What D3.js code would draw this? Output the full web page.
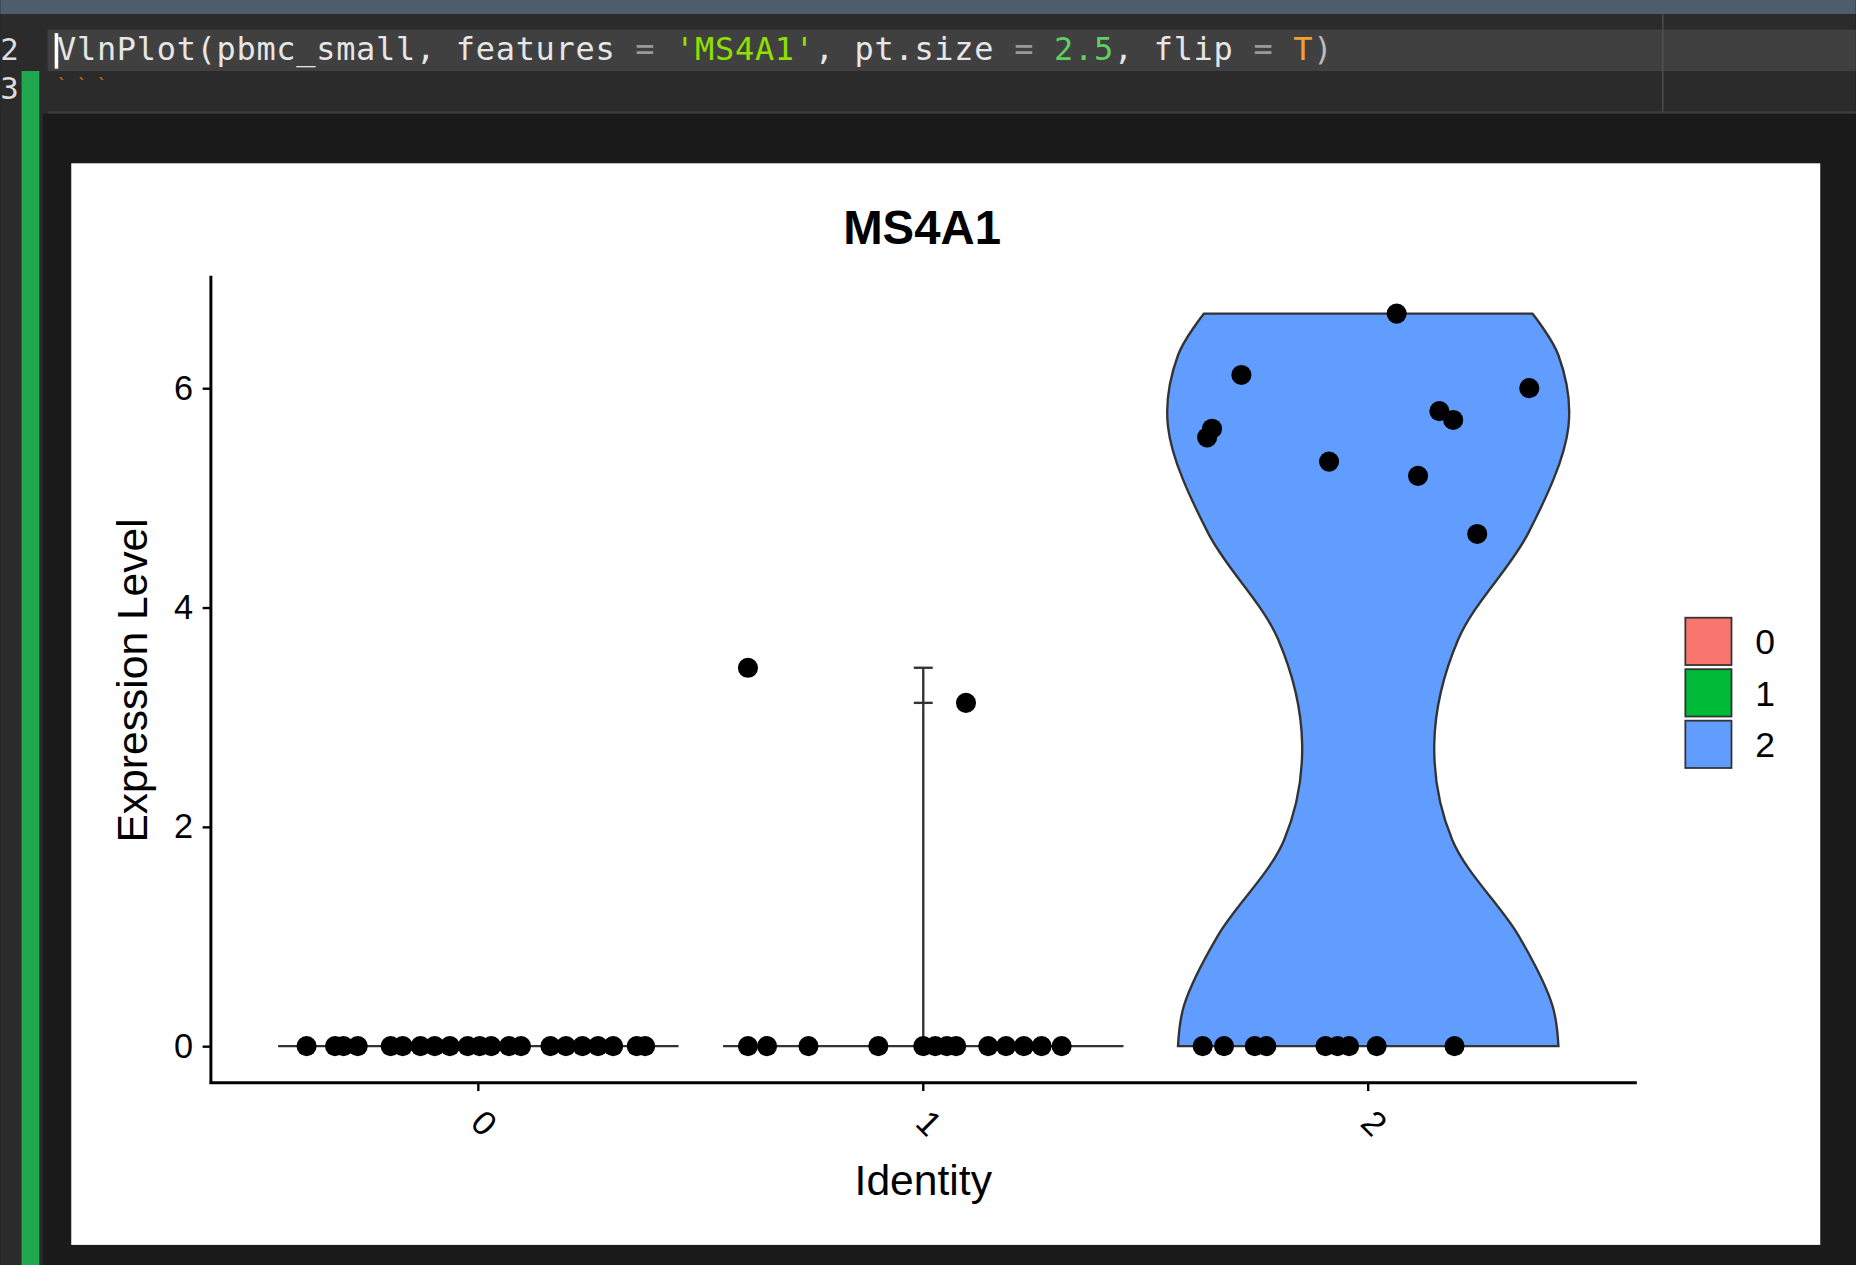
<!DOCTYPE html>
<html>
<head>
<meta charset="utf-8">
<script src="https://cdn.jsdelivr.net/npm/d3@7"></script>
<style>
  html, body { margin: 0; padding: 0; background: #1a1a1a; overflow: hidden; }
  text { font-family: "Liberation Sans", Arial, sans-serif; }
</style>
</head>
<body>
<svg id="chart" width="1856" height="1265" viewBox="0 0 1568 1069"></svg>
<script>
(function () {
    'use strict';

    // data
    var identities = ["0", "1", "2"];
    var clusterColors = ["#F8766D", "#00BA38", "#619CFF"];
    var yTicks = [0, 2, 4, 6];

    // jitter in band units, expression values
    var cells0x = [-0.386, -0.322, -0.303, -0.271, -0.197, -0.170, -0.130, -0.098, -0.064, -0.024, 0.003, 0.029, 0.069, 0.096, 0.162, 0.197, 0.234, 0.269, 0.303, 0.356, 0.375];
    var cells0y = [0, 0, 0, 0, 0, 0, 0, 0, 0, 0, 0, 0, 0, 0, 0, 0, 0, 0, 0, 0, 0];
    var cells1x = [-0.394, -0.394, -0.351, -0.258, -0.101, 0.0, 0.027, 0.053, 0.074, 0.096, 0.146, 0.186, 0.226, 0.266, 0.311];
    var cells1y = [3.45, 0, 0, 0, 0, 0, 0, 0, 0, 3.13, 0, 0, 0, 0, 0];
    var cells2x = [0.064, -0.285, -0.351, -0.362, 0.362, 0.160, 0.191, -0.088, 0.112, 0.245, -0.372, -0.324, -0.255, -0.229, -0.096, -0.069, -0.043, 0.019, 0.194];
    var cells2y = [6.68, 6.12, 5.63, 5.55, 6.0, 5.79, 5.71, 5.33, 5.2, 4.67, 0, 0, 0, 0, 0, 0, 0, 0, 0];

    // violin outline for cluster 2: expression value vs relative density
    var violin2Level = [0, 0.37, 1.01, 1.88, 2.76, 3.71, 4.68, 5.65, 6.3, 6.68];
    var violin2Density = [0.95, 0.92, 0.75, 0.42, 0.33, 0.45, 0.80, 1.0, 0.95, 0.82];
    var violin1Top = 3.45, violin1Notch = 3.13;

    var svg = d3.select("#chart");

    // editor chrome
    svg.append("rect").attr("x", 0).attr("y", 0).attr("width", 1568).attr("height", 12).style("fill", "#4e5d6c");
    svg.append("rect").attr("x", 0).attr("y", 12).attr("width", 1568).attr("height", 84).style("fill", "#2b2b2b");
    svg.append("rect").attr("x", 40).attr("y", 25).attr("width", 1528).attr("height", 35).style("fill", "#404040");
    svg.append("line").attr("x1", 1405).attr("x2", 1405).attr("y1", 12).attr("y2", 95).style("stroke", "#555").style("stroke-width", 1);
    svg.append("line").attr("x1", 40).attr("x2", 1568).attr("y1", 95).attr("y2", 95).style("stroke", "#3c3c3c").style("stroke-width", 2);
    svg.append("rect").attr("x", 0).attr("y", 12).attr("width", 36).attr("height", 1057).style("fill", "#2b2b2b");
    svg.append("rect").attr("x", 18).attr("y", 60).attr("width", 15).attr("height", 1009).style("fill", "#1fa84f");
    svg.append("rect").attr("x", 46).attr("y", 28).attr("width", 3).attr("height", 30).style("fill", "#fff");
    [["2", 51], ["3", 84]].forEach(function (d) {
        svg.append("text").attr("x", 0).attr("y", d[1]).text(d[0])
            .style("font-family", "DejaVu Sans Mono, monospace").style("font-size", "26px").style("fill", "#ddd");
    });
    svg.append("text").attr("x", 48).attr("y", 76).text("` ` `")
        .style("font-family", "DejaVu Sans Mono, monospace").style("font-size", "14px").style("fill", "#e07b00");
    var code = svg.append("text").attr("x", 48).attr("y", 51)
        .style("font-family", "DejaVu Sans Mono, monospace").style("font-size", "27px")
        .style("letter-spacing", "0.6px").attr("xml:space", "preserve");
    [["VlnPlot(pbmc_small, features ", "#e6e6e6"], ["=", "#999"], [" ", "#e6e6e6"], ["'MS4A1'", "#8fe000"],
     [", pt.size ", "#e6e6e6"], ["=", "#999"], [" ", "#e6e6e6"], ["2.5", "#5fcf5f"], [", flip ", "#e6e6e6"],
     ["=", "#999"], [" ", "#e6e6e6"], ["T", "#f0a030"], [")", "#bbb"]].forEach(function (p) {
        code.append("tspan").text(p[0]).style("fill", p[1]);
    });

    // plot panel
    svg.append("rect").attr("x", 60).attr("y", 138).attr("width", 1478).attr("height", 914).style("fill", "#fff");

    var x = d3.scaleBand().domain(identities).range([216, 1344]).padding(0);
    var bw = x.bandwidth();
    var y = d3.scaleLinear().domain([0, 6]).range([884, 328]);
    var halfMax = 0.45 * bw;

    svg.append("text").attr("x", 779).attr("y", 206).attr("text-anchor", "middle")
        .style("font-size", "40px").style("font-weight", "bold").text("MS4A1");

    // violins 0 and 1 (flat)
    [0, 1].forEach(function (i) {
        var cx = x(identities[i]) + bw / 2;
        svg.append("line").attr("x1", cx - halfMax).attr("x2", cx + halfMax)
            .attr("y1", y(0)).attr("y2", y(0)).style("stroke", "#333").style("stroke-width", 2);
    });
    var c1 = x("1") + bw / 2;
    svg.append("line").attr("x1", c1).attr("x2", c1).attr("y1", y(0)).attr("y2", y(violin1Top))
        .style("stroke", "#333").style("stroke-width", 2);
    [violin1Top, violin1Notch].forEach(function (v) {
        svg.append("line").attr("x1", c1 - 8).attr("x2", c1 + 8).attr("y1", y(v)).attr("y2", y(v))
            .style("stroke", "#333").style("stroke-width", 2);
    });

    // violin 2
    var c2 = x("2") + bw / 2;
    var prof = violin2Level.map(function (v, i) { return { v: v, d: violin2Density[i] }; });
    var area = d3.area()
        .y(function (d) { return y(d.v); })
        .x0(function (d) { return c2 - d.d * halfMax; })
        .x1(function (d) { return c2 + d.d * halfMax; })
        .curve(d3.curveCatmullRom);
    svg.append("path").datum(prof).attr("d", area)
        .style("fill", clusterColors[2]).style("stroke", "#333").style("stroke-width", 2);

    // points
    [[cells0x, cells0y], [cells1x, cells1y], [cells2x, cells2y]].forEach(function (s, i) {
        var cx = x(identities[i]) + bw / 2;
        svg.append("g").selectAll("circle").data(s[0]).enter().append("circle")
            .attr("cx", function (d) { return cx + d * bw; })
            .attr("cy", function (d, j) { return y(s[1][j]); })
            .attr("r", 8.5).style("fill", "#000");
    });

    // axes
    var gy = svg.append("g").attr("transform", "translate(178,0)")
        .call(d3.axisLeft(y).tickValues(yTicks).tickFormat(d3.format("d")).tickSize(7).tickPadding(8));
    var gx = svg.append("g").attr("transform", "translate(0,915)")
        .call(d3.axisBottom(x).tickSize(7).tickPadding(6));
    [gy, gx].forEach(function (g) {
        g.select(".domain").remove();
        g.selectAll("line").style("stroke", "#000").style("stroke-width", 2);
        g.selectAll("text").style("font-size", "29px").style("fill", "#000").style("font-family", "Liberation Sans, Arial, sans-serif");
    });
    gx.selectAll("text").attr("y", 0).attr("dy", null)
        .attr("transform", "translate(5,34) rotate(45)").attr("text-anchor", "middle").attr("dominant-baseline", "central");
    svg.append("line").attr("x1", 178).attr("x2", 178).attr("y1", 233).attr("y2", 916).style("stroke", "#000").style("stroke-width", 2.5);
    svg.append("line").attr("x1", 177).attr("x2", 1383).attr("y1", 915).attr("y2", 915).style("stroke", "#000").style("stroke-width", 2.5);

    svg.append("text").attr("x", 780).attr("y", 1010).attr("text-anchor", "middle").style("font-size", "36px").text("Identity");
    svg.append("text").attr("transform", "translate(124,575) rotate(-90)").attr("text-anchor", "middle")
        .style("font-size", "36px").text("Expression Level");

    // legend
    identities.forEach(function (id, i) {
        svg.append("rect").attr("x", 1424).attr("y", 522 + i * 43.5).attr("width", 39).attr("height", 40)
            .style("fill", clusterColors[i]).style("stroke", "#333").style("stroke-width", 1.5);
        svg.append("text").attr("x", 1483).attr("y", 553 + i * 43.5).style("font-size", "30px").text(id);
    });
}());
</script>
</body>
</html>
